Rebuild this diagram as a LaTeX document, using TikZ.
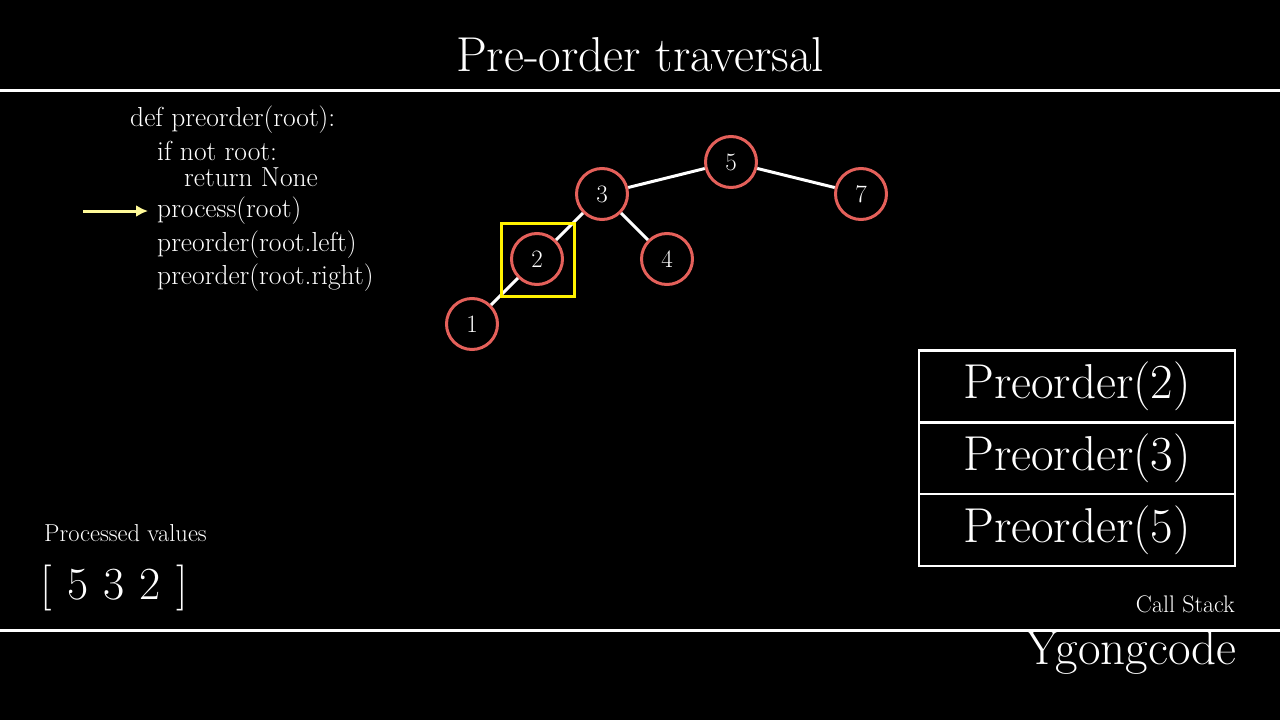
\documentclass[tikz,border=0pt]{standalone}
\usepackage{fontspec}
\usetikzlibrary{arrows.meta}
\definecolor{nodered}{HTML}{E4605A}
\begin{document}
\begin{tikzpicture}[x=1pt,y=-1pt,
  tn/.style={circle,draw=nodered,line width=3pt,minimum size=51pt,inner sep=0pt,text=white,font=\fontsize{25}{27}\selectfont},
  edge/.style={white,line width=3pt},
  code/.style={anchor=west,text=white,font=\fontsize{27.5}{29}\selectfont,inner sep=0pt},
  stk/.style={draw=white,line width=2.5pt,minimum width=316pt,minimum height=72pt,text=white,font=\fontsize{49}{52}\selectfont}]
\fill[black] (0,0) rectangle (1280,720);
\useasboundingbox (0,0) rectangle (1280,720);
\node[text=white,font=\fontsize{49}{52}\selectfont] (title) at (640,55) {Pre-order traversal};
\draw[white,line width=3pt] (0,90) -- (1280,90);
\draw[white,line width=3pt] (0,630) -- (1280,630);
\node[code] (c1) at (130,120) {def preorder(root):};
\node[code] (c2) at (157,151) {if not root:};
\node[code] (c3) at (184,177) {return None};
\node[code] (c4) at (157,211) {process(root)};
\node[code] (c5) at (157,245) {preorder(root.left)};
\node[code] (c6) at (157,278) {preorder(root.right)};
\coordinate (a0) at (83,211);
\coordinate (a1) at (148,211);
\draw[yellow!40!white,line width=3pt,-{Latex[length=12pt,width=12pt]}] (a0) -- (a1);
\node[tn] (n5) at (731,162) {5};
\node[tn] (n3) at (602,194) {3};
\node[tn] (n7) at (861,194) {7};
\node[tn] (n2) at (537,259) {2};
\node[tn] (n4) at (667,259) {4};
\node[tn] (n1) at (472,324) {1};
\draw[edge] (n5) -- (n3); \draw[edge] (n5) -- (n7);
\draw[edge] (n3) -- (n2); \draw[edge] (n3) -- (n4);
\draw[edge] (n2) -- (n1);
\node[draw=yellow,line width=3pt,minimum size=73pt,inner sep=0pt] (sel) at (537.5,259.5) {};
\node[stk] (s1) at (1077,386.5) {Preorder(2)};
\node[stk] (s2) at (1077,458) {Preorder(3)};
\node[stk] (s3) at (1077,530) {Preorder(5)};
\node[anchor=east,text=white,font=\fontsize{24}{26}\selectfont,inner sep=0pt] (cs) at (1235,604) {Call Stack};
\node[anchor=east,text=white,font=\fontsize{49}{52}\selectfont,inner sep=0pt] (yg) at (1237,652) {Ygongcode};
\node[anchor=west,text=white,font=\fontsize{24.5}{26}\selectfont,inner sep=0pt] (pv) at (44,533) {Processed values};
\node[anchor=west,text=white,font=\fontsize{46}{50}\selectfont,inner sep=0pt] (vals) at (40,588) {[\,\,5\,\,3\,\,2\,\,]};
\end{tikzpicture}
\end{document}
